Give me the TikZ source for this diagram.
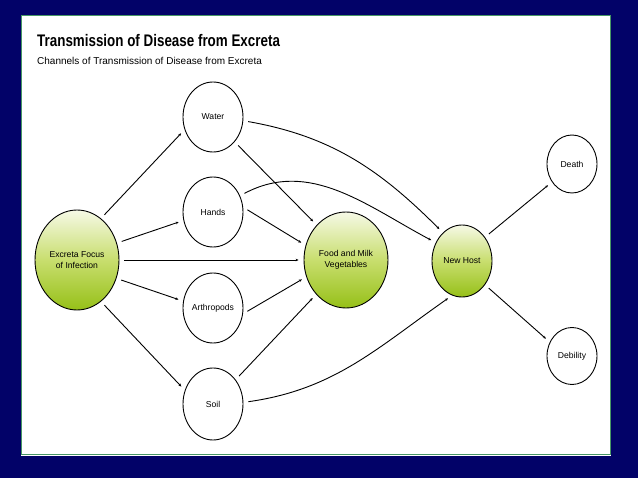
\documentclass[tikz,border=0pt]{standalone}
\usepackage{fontspec}
\setmainfont{Liberation Sans}
\usetikzlibrary{shapes.geometric,arrows.meta}
\definecolor{navy}{RGB}{2,2,104}
\definecolor{panelline}{RGB}{70,150,100}
\definecolor{gtop}{RGB}{246,249,230}
\definecolor{gmid}{RGB}{200,222,110}
\definecolor{gbot}{RGB}{150,192,24}
\tikzset{
  circnode/.style={ellipse, draw=black, line width=0.9pt, inner sep=0pt, fill=white,
     font=\fontsize{8.6}{10.5}\selectfont, align=center},
  greennode/.style={circnode, top color=gtop, bottom color=gbot, middle color=gmid},
  conn/.style={line width=0.9pt, -{Stealth[length=3pt,width=2.6pt]}, shorten <=5pt, shorten >=5pt}
}
\begin{document}
\begin{tikzpicture}[x=1pt,y=-1pt]
\fill[navy] (0,0) rectangle (638,478);
\useasboundingbox (0,0) rectangle (638,478);
\fill[white] (21,16) rectangle (611,456);
\draw[panelline, line width=1pt] (21,16) rectangle (610,455);
\node[anchor=base west, inner sep=0pt, font=\bfseries\fontsize{13.4}{15}\selectfont] (title) at (37,46.5) {\scalebox{1}[1.25]{Transmission of Disease from Excreta}};
\node[anchor=base west, font=\fontsize{10}{12}\selectfont, inner sep=0pt] (sub) at (37,65) {Channels of Transmission of Disease from Excreta};

\node[greennode, minimum width=84pt, minimum height=100pt] (exc) at (77,260) {Excreta Focus\\of Infection};
\node[circnode, minimum width=60pt, minimum height=70pt] (water) at (213,117) {Water};
\node[circnode, minimum width=60pt, minimum height=70pt] (hands) at (213,212) {Hands};
\node[circnode, minimum width=60pt, minimum height=70pt] (arth) at (213,308) {Arthropods};
\node[circnode, minimum width=60pt, minimum height=72pt] (soil) at (213,404) {Soil};
\node[greennode, minimum width=84pt, minimum height=96pt] (food) at (346,260) {Food and Milk\\Vegetables};
\node[greennode, minimum width=60pt, minimum height=72pt] (host) at (462,261) {New Host};
\node[circnode, minimum width=50pt, minimum height=58pt] (death) at (572,164) {Death};
\node[circnode, minimum width=50pt, minimum height=57pt] (deb) at (572,356) {Debility};

\draw[conn] (exc.60) -- (water.204);
\draw[conn] (exc.23) -- (hands.196);
\draw[conn] (exc.0) -- (food.180);
\draw[conn] (exc.-25) -- (arth.167);
\draw[conn] (exc.-60) -- (soil.154);
\draw[conn] (water.-49) -- (food.130);
\draw[conn] (hands.9) -- (food.160);
\draw[conn] (arth.-11) -- (food.203);
\draw[conn] (soil.47) -- (food.229);
\draw[conn] (water.-7) to[out=-10,in=135] (host.124);
\draw[conn] (hands.31) to[out=28,in=152] (host.145);
\draw[conn] (soil.3) to[out=8,in=215] (host.254);
\draw[conn] (host.46) -- (death.222);
\draw[conn] (host.-46) -- (deb.148);
\end{tikzpicture}
\end{document}
